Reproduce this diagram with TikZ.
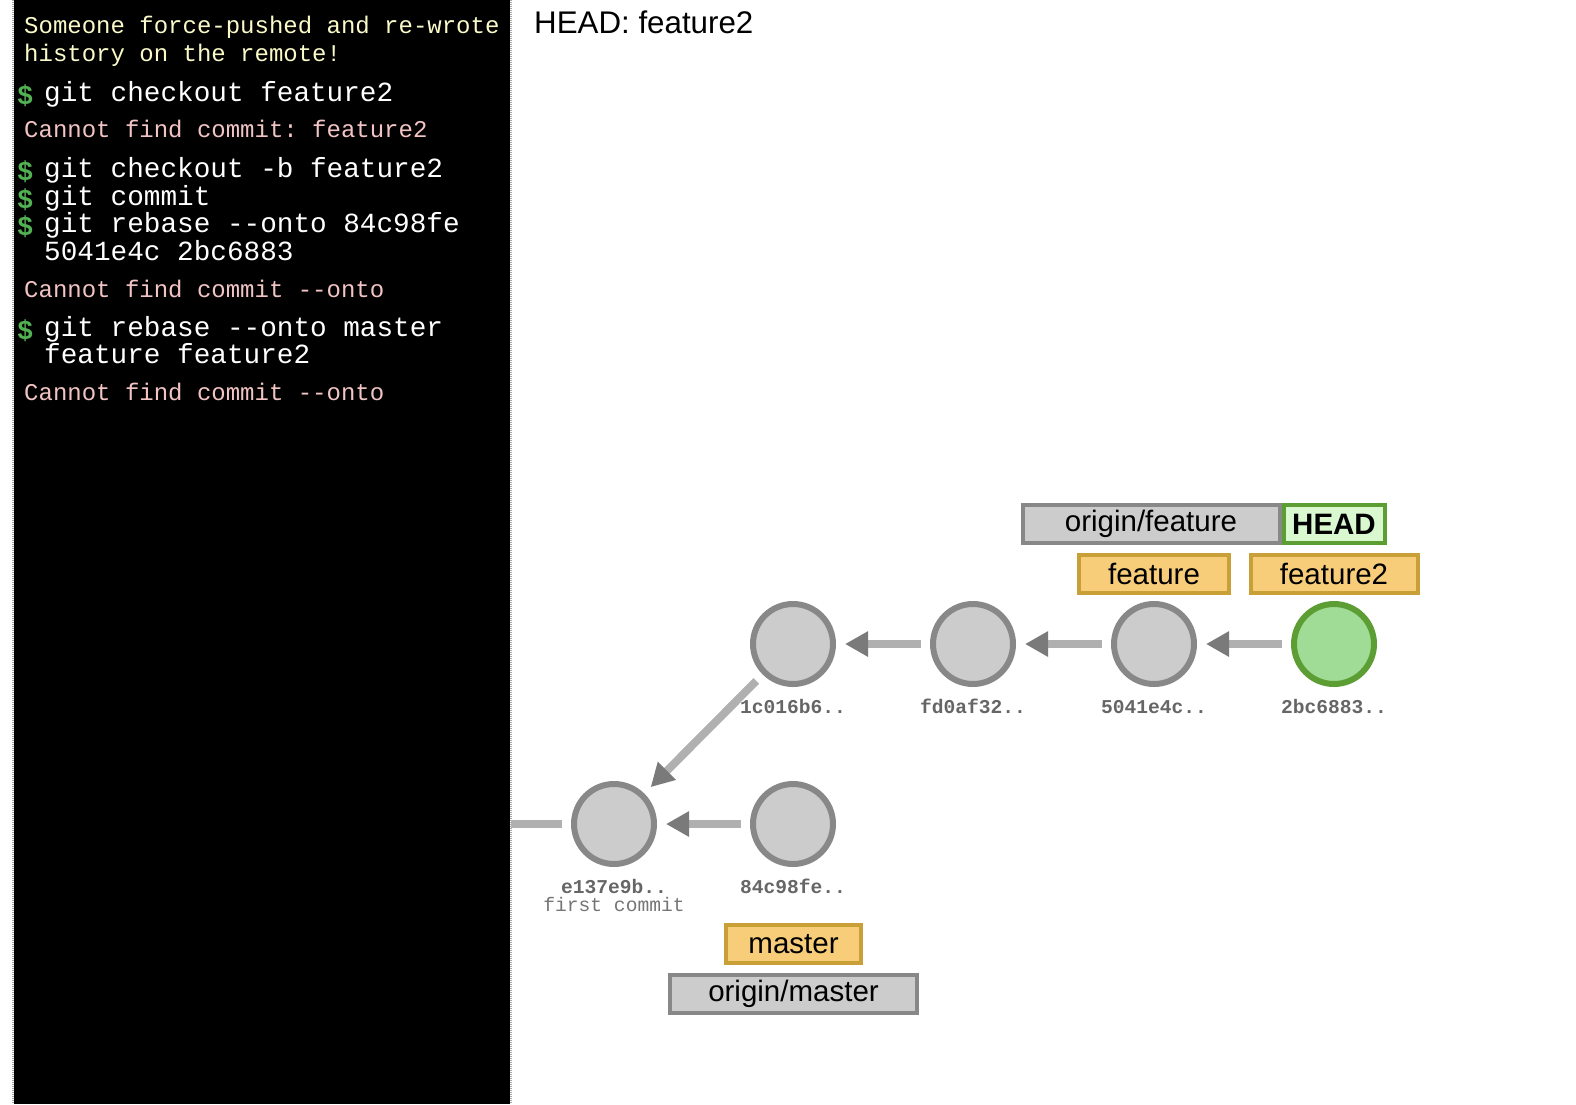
\documentclass[tikz,border=0pt]{standalone}
\usepackage{fontspec}
\setmainfont{Liberation Sans}
\setmonofont{Liberation Mono}
\usetikzlibrary{arrows.meta,calc,positioning}
\definecolor{commitfill}{HTML}{CCCCCC}
\definecolor{commitdraw}{HTML}{888888}
\definecolor{headfill}{HTML}{A0DC96}
\definecolor{headdraw}{HTML}{5C9E34}
\definecolor{headlight}{HTML}{D9F8D0}
\definecolor{branchfill}{HTML}{F7CD79}
\definecolor{branchdraw}{HTML}{C9A037}
\definecolor{linegray}{HTML}{B0B0B0}
\definecolor{tipgray}{HTML}{7A7A7A}
\definecolor{hashgray}{HTML}{666666}
\definecolor{termyellow}{HTML}{FAFAC8}
\definecolor{termpink}{HTML}{F2C4C4}
\definecolor{promptgreen}{HTML}{52B152}
\tikzset{
  commit/.style={circle, draw=commitdraw, fill=commitfill, line width=6pt, minimum size=80pt, inner sep=0pt},
  headcommit/.style={commit, draw=headdraw, fill=headfill},
  hash/.style={anchor=base, inner sep=0pt, text=hashgray, font=\fontsize{19.6}{22}\selectfont\ttfamily\bfseries},
  subject/.style={anchor=base, inner sep=0pt, text=hashgray!90, font=\fontsize{19.6}{22}\selectfont\ttfamily},
  branch/.style={draw=branchdraw, fill=branchfill, line width=4pt, minimum height=38pt, inner sep=0pt, font=\fontsize{29.5}{32}\selectfont},
  remote/.style={branch, draw=commitdraw, fill=commitfill},
  headref/.style={branch, draw=headdraw, fill=headlight, font=\fontsize{29.5}{32}\selectfont\bfseries},
  parent/.style={line width=8pt, draw=linegray, shorten <=9pt, shorten >=9pt, -{Triangle[length=23pt,width=24pt,color=tipgray]}},
  termmsg/.style={anchor=base west, inner sep=0pt, text=termyellow, font=\fontsize{24}{28}\selectfont\ttfamily},
  termerr/.style={termmsg, text=termpink},
  termcmd/.style={anchor=base west, inner sep=0pt, text=white, font=\fontsize{27.7}{32}\selectfont\ttfamily},
  prompt/.style={anchor=base west, inner sep=0pt, text=promptgreen, font=\fontsize{27}{30}\selectfont\ttfamily\bfseries},
  termborder/.style={draw=gray!70, line width=2pt, dash pattern=on 1pt off 1pt},
  title/.style={anchor=base west, inner sep=0pt, font=\fontsize{31.3}{36}\selectfont}
}
\begin{document}
\begin{tikzpicture}[x=1pt,y=-1pt]
  \useasboundingbox (0,0) rectangle (1576,1104);
  \fill[black] (14,0) rectangle (510,1104);
  \draw[termborder] (13,0)--(13,1104);
  \draw[termborder] (511,0)--(511,1104);

  \node[termmsg] (msg1) at (24,33) {Someone force-pushed and re-wrote};
  \node[termmsg] (msg2) at (24,61) {history on the remote!};
  \node[prompt] (p1) at (17,104) {\$};
  \node[termcmd] (cmd1) at (44,101) {git checkout feature2};
  \node[termerr] (err1) at (24,137) {Cannot find commit: feature2};
  \node[prompt] (p2) at (17,180) {\$};
  \node[termcmd] (cmd2) at (44,177) {git checkout -b feature2};
  \node[prompt] (p3) at (17,208) {\$};
  \node[termcmd] (cmd3) at (44,205) {git commit};
  \node[prompt] (p4) at (17,235) {\$};
  \node[termcmd] (cmd4) at (44,232) {git rebase -{}-onto 84c98fe};
  \node[termcmd] (cmd4b) at (44,260) {5041e4c 2bc6883};
  \node[termerr] (err2) at (24,297) {Cannot find commit -{}-onto};
  \node[prompt] (p5) at (17,339) {\$};
  \node[termcmd] (cmd5) at (44,336) {git rebase -{}-onto master};
  \node[termcmd] (cmd5b) at (44,363) {feature feature2};
  \node[termerr] (err3) at (24,400) {Cannot find commit -{}-onto};

  \node[title] (headtitle) at (534,33) {HEAD: feature2};

  \node[commit] (c0) at (614,824) {};
  \node[commit] (c5) at (793,824) {};
  \node[commit] (c1) at (793,644) {};
  \node[commit] (c2) at (973,644) {};
  \node[commit] (c3) at (1154,644) {};
  \node[headcommit] (c4) at (1334,644) {};

  \node[hash] (h0) at ($(c0)+(0,69)$) {e137e9b..};
  \node[subject] (s0) at ($(c0)+(0,87)$) {first commit};
  \node[hash] (h5) at ($(c5)+(0,69)$) {84c98fe..};
  \node[hash] (h1) at ($(c1)+(0,69)$) {1c016b6..};
  \node[hash] (h2) at ($(c2)+(0,69)$) {fd0af32..};
  \node[hash] (h3) at ($(c3)+(0,69)$) {5041e4c..};
  \node[hash] (h4) at ($(c4)+(0,69)$) {2bc6883..};

  \coordinate (edge) at (511,824);
  \draw[line width=8pt, draw=linegray, shorten >=9pt] (edge) -- (c0);
  \draw[parent] (c5) -- (c0);
  \draw[parent] (c1) -- (c0);
  \draw[parent] (c2) -- (c1);
  \draw[parent] (c3) -- (c2);
  \draw[parent] (c4) -- (c3);

  \node[branch, minimum width=150pt] (feature) at ($(c3)+(0,-70.5)$) {feature};
  \node[branch, minimum width=167pt] (feature2) at ($(c4)+(0,-70.5)$) {feature2};
  \node[headref, minimum width=101pt] (head) at ($(c4)+(0,-120)$) {HEAD};
  \node[remote, minimum width=257pt, anchor=east] (originfeature) at ($(head.west)+(-0.01,0)$) {origin/feature};
  \node[branch, minimum width=135pt] (master) at ($(c5)+(0.5,120)$) {master};
  \node[remote, minimum width=247pt] (originmaster) at ($(c5)+(0.5,170)$) {origin/master};
\end{tikzpicture}
\end{document}
